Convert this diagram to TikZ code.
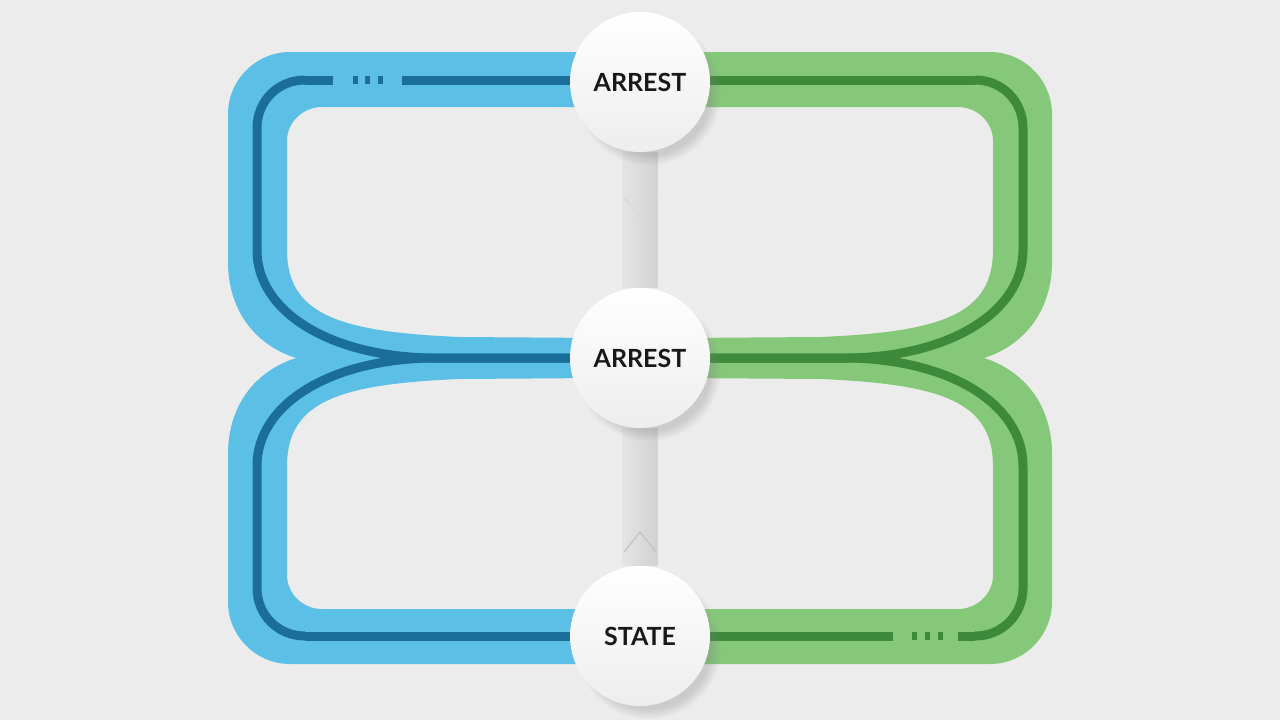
\documentclass[tikz,border=0pt]{standalone}
\usepackage{fontspec}
\setmainfont{Lato}
\usetikzlibrary{shadows, backgrounds}

\definecolor{bgGray}{HTML}{ECECEC}
\definecolor{bandBlue}{HTML}{5CBFE6}
\definecolor{lineBlue}{HTML}{1B6E9A}
\definecolor{bandGreen}{HTML}{86C87A}
\definecolor{lineGreen}{HTML}{3D8A3A}
\definecolor{barLight}{HTML}{E4E4E4}
\definecolor{barDark}{HTML}{D2D2D2}

% one half of the figure-eight: band and its curved centre line
\newcommand{\halfloop}[2]{%
  \fill[#1]
    (600,52) -- (290,52) .. controls (256,52) and (228,80) .. (228,114)
    -- (228,262) .. controls (228,310) and (255,345) .. (296,358)
    .. controls (255,371) and (228,406) .. (228,454)
    -- (228,602) .. controls (228,636) and (256,664) .. (290,664)
    -- (600,664) -- (600,609) -- (322,609)
    .. controls (303,609) and (287,594) .. (287,575) -- (287,466)
    .. controls (287,401) and (340,384) .. (460,379) -- (600,378)
    -- (600,338) -- (460,337)
    .. controls (340,332) and (287,315) .. (287,250) -- (287,141)
    .. controls (287,122) and (303,107) .. (322,107) -- (600,107) -- cycle;
  \draw[#2, trackline]
    (305,80) .. controls (278,80) and (257,101) .. (257,128)
    -- (257,250) .. controls (257,312) and (330,356) .. (430,358) -- (600,358);
  \draw[#2, trackline]
    (600,358) -- (430,358) .. controls (330,360) and (257,404) .. (257,466)
    -- (257,588) .. controls (257,615) and (278,636) .. (305,636);
}

\begin{document}
\begin{tikzpicture}[
  x=1pt, y=-1pt,
  stop/.style={circle, minimum size=140pt, inner sep=0pt,
    top color=white, bottom color=black!7, text=black!90,
    font=\bfseries\fontsize{25}{30}\selectfont,
    circular drop shadow={shadow xshift=8pt, shadow yshift=-10pt,
      shadow scale=1.04, opacity=.3}},
  trackline/.style={line width=9pt},
  dot/.style={minimum width=4.5pt, minimum height=8pt, inner sep=0pt},
  chevron/.style={line width=1.6pt, draw=black!22, line join=miter}
]
  \useasboundingbox (0,0) rectangle (1280,720);

  % Stops
  \node[stop] (arrestTop) at (640,82) {ARREST};
  \node[stop] (arrestMid) at (640,358) {ARREST};
  \node[stop] (stateBot) at (640,636) {STATE};

  \begin{scope}[on background layer]
    \fill[bgGray] (0,0) rectangle (1280,720);

    % Blue half
    \halfloop{bandBlue}{lineBlue}
    \draw[lineBlue, trackline] (305,80) -- (333,80);
    \draw[lineBlue, trackline] (402,80) -- (600,80);
    \draw[lineBlue, trackline] (305,636) -- (600,636);
    \foreach \dx in {355.5, 367.5, 380.5}
      \node[dot, fill=lineBlue] at (\dx,80) {};

    % Green half (mirrored)
    \begin{scope}[xshift=1280pt, xscale=-1]
      \halfloop{bandGreen}{lineGreen}
      \draw[lineGreen, trackline] (305,80) -- (600,80);
      \draw[lineGreen, trackline] (305,636) -- (322,636);
      \draw[lineGreen, trackline] (387,636) -- (600,636);
    \end{scope}
    \foreach \dx in {914.5, 927.5, 940.5}
      \node[dot, fill=lineGreen] at (\dx,636) {};

    % Centre rail
    \shade[left color=barLight, right color=barDark]
      ([xshift=-17.5pt]arrestTop.south) rectangle ([xshift=17.5pt]arrestMid.north);
    \shade[left color=barLight, right color=barDark]
      ([xshift=-17.5pt]arrestMid.south) rectangle ([xshift=17.5pt]stateBot.north);
    \draw[chevron, draw=black!15] (624,198) -- (640,215) -- (656,198);
    \draw[chevron] (624,552) -- (640,532) -- (656,552);
  \end{scope}
\end{tikzpicture}
\end{document}
